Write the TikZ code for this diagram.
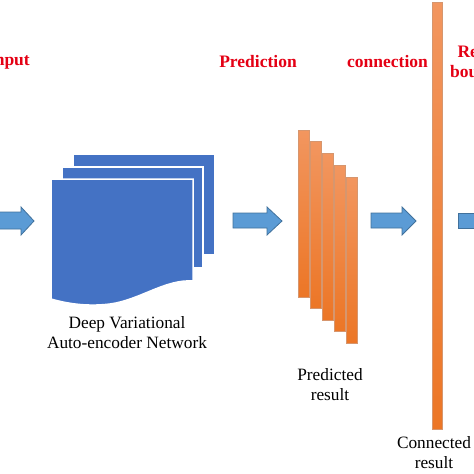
\documentclass[tikz,border=0pt]{standalone}
\usepackage{fontspec}
\setmainfont{Liberation Serif}
\definecolor{docblue}{RGB}{68,114,196}
\definecolor{arrblue}{RGB}{91,155,213}
\definecolor{arredge}{RGB}{65,113,156}
\definecolor{orlight}{RGB}{242,150,95}
\definecolor{ordark}{RGB}{236,118,38}
\definecolor{oredge}{RGB}{214,150,110}
\definecolor{labred}{RGB}{228,0,20}
\begin{document}
\begin{tikzpicture}[x=1pt,y=-1pt,
  bluearrow/.style={fill=arrblue,draw=arredge,line width=0.8pt,line join=miter},
  page/.style={fill=docblue,draw=white,line width=1.5pt},
  obar/.style={top color=orlight,bottom color=ordark,draw=oredge,line width=0.7pt},
  redlab/.style={text=labred,font=\bfseries\fontsize{17.5}{20}\selectfont,align=center,inner sep=0pt},
  caption/.style={font=\fontsize{17.3}{20}\selectfont,align=center,inner sep=0pt}]
\useasboundingbox (0,0) rectangle (474,474);
% red labels
\node[redlab,anchor=east] (input) at (30,62) {Input};
\node[redlab] (pred) at (258,62) {Prediction};
\node[redlab] (conn) at (387.5,62) {connection};
\node[redlab,anchor=west] (refine) at (450,63) {\hspace*{0pt}\makebox[73pt][c]{Refined}\\boundary};
% arrows
\path[bluearrow] (-5,212) -- (21,212) -- (21,207) -- (34,221) -- (21,235) -- (21,229) -- (-5,229) -- cycle;
\path[bluearrow] (233,213) -- (267,213) -- (267,207) -- (282,221) -- (267,235) -- (267,228) -- (233,228) -- cycle;
\path[bluearrow] (371,213) -- (402,213) -- (402,207) -- (416,221) -- (402,235) -- (402,228) -- (371,228) -- cycle;
\path[bluearrow] (458,213) -- (490,213) -- (490,228) -- (458,228) -- cycle;
% document stack
\path[page] (73,154) rectangle (215,255);
\path[page] (62,167) rectangle (203,268);
\path[page] (51,179) -- (193,179) -- (193,281)
  .. controls (165,279) and (140,300) .. (110,304)
  .. controls (85,307) and (65,303) .. (51,299) -- cycle;
\node[caption] (dvae) at (127,333) {Deep Variational\\Auto-encoder Network};
% predicted bars
\foreach \i in {0,...,4} {
  \path[obar] ({298+12*\i},{130+11.8*\i}) rectangle ({309+12*\i},{297+11.6*\i});
}
\node[caption] (predres) at (330,385) {Predicted\\result};
% connected bar
\path[obar] (432,2) rectangle (442,429);
\node[caption] (connres) at (434,453) {Connected\\result};
\end{tikzpicture}
\end{document}
